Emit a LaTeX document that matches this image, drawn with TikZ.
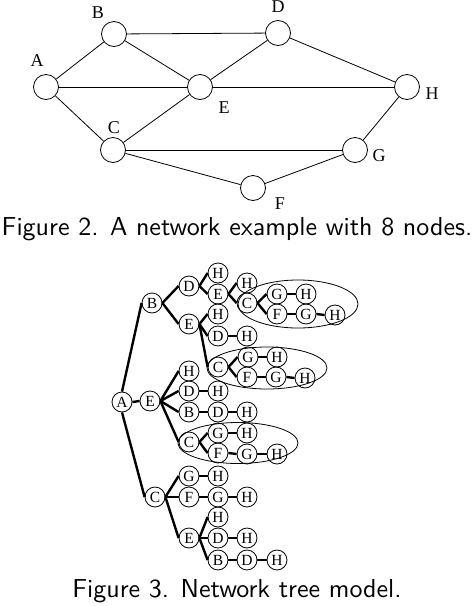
\documentclass[tikz,border=0pt]{standalone}
\usepackage{fontspec}
\newfontfamily\tms{Liberation Serif}
\newfontfamily\capfont{lmsans10-regular.otf}

\tikzset{
  vtx/.style={circle,draw,line width=0.8pt,minimum size=25pt,inner sep=0pt},
  vlbl/.style={font=\tms\fontsize{18}{18}\selectfont,inner sep=0pt},
  link/.style={line width=0.8pt},
  tnode/.style={circle,draw,line width=0.8pt,minimum size=20pt,inner sep=0pt,
    font=\tms\fontsize{15.5}{15.5}\selectfont},
  tedge/.style={line width=2.4pt},
  group/.style={line width=0.8pt},
  caption/.style={font=\capfont\fontsize{26}{30}\selectfont,anchor=base,inner sep=0pt}
}

\begin{document}
\begin{tikzpicture}[x=1pt,y=-1pt]
  \useasboundingbox (0,0) rectangle (474,606);
  % Network with 8 nodes
  \foreach \n/\x/\y in {A/46/87, B/114/34, D/278/33, E/200/87,
                        H/407/87, C/113/150, G/355/150, F/253/188} {
    \node[vtx] (\n) at (\x,\y) {};
  }
  \foreach \n/\x/\y in {A/37/61, B/98/13, D/278/7, E/224/108,
                        H/432/94, C/114/128, G/379/156, F/280/204} {
    \node[vlbl] (l\n) at (\x,\y) {\n};
  }
  \foreach \a/\b in {A/B, A/E, A/C, B/D, B/E, D/E, D/H, E/H,
                     C/E, C/G, C/F, F/G, G/H} {
    \draw[link] (\a) -- (\b);
  }
  \node[caption] (cap2) at (237,235) {Figure 2. A network example with 8 nodes.};

  % Tree model
  \foreach \n/\x/\y/\l in {r/122/402/A,
      rB/152/303/B, rE/150/401/E, rC/155/497/C,
      rBD/189/286/D, rBE/189/324/E,
      rBDH/218/273/H, rBDE/218/294/E,
      rBDEH/247/283/H, rBDEC/247/303/C,
      rBDECG/277/294/G, rBDECGH/306/294/H,
      rBDECF/277/314/F, rBDECFG/306/314/G, rBDECFGH/335/315/H,
      rBEH/218/314/H, rBED/218/336/D, rBEDH/247/336/H,
      rBEC/218/367/C, rBECG/248/357/G, rBECGH/277/357/H,
      rBECF/247/377/F, rBECFG/276/377/G, rBECFGH/305/378/H,
      rEH/189/371/H, rED/189/391/D, rEDH/218/391/H,
      rEB/189/412/B, rEBD/218/412/D, rEBDH/247/412/H,
      rEC/189/442/C, rECG/218/433/G, rECGH/247/433/H,
      rECF/218/453/F, rECFG/247/454/G, rECFGH/277/454/H,
      rCG/189/476/G, rCGH/218/476/H,
      rCF/189/497/F, rCFG/218/497/G, rCFGH/247/497/H,
      rCE/189/538/E, rCEH/218/517/H, rCED/218/538/D, rCEDH/247/538/H,
      rCEB/218/560/B, rCEBD/247/560/D, rCEBDH/277/560/H} {
    \node[tnode] (\n) at (\x,\y) {\l};
  }
  \draw[tedge] (r.north) -- (rB.west);
  \draw[tedge] (r.east) -- (rE.west);
  \draw[tedge] (r.south) -- (rC.west);
  \foreach \p/\c in {rB/rBD, rB/rBE, rBD/rBDH, rBD/rBDE, rBDE/rBDEH, rBDE/rBDEC,
      rBDEC/rBDECG, rBDECG/rBDECGH, rBDEC/rBDECF, rBDECF/rBDECFG, rBDECFG/rBDECFGH,
      rBE/rBEH, rBE/rBED, rBED/rBEDH, rBE/rBEC, rBEC/rBECG, rBECG/rBECGH,
      rBEC/rBECF, rBECF/rBECFG, rBECFG/rBECFGH,
      rE/rEH, rE/rED, rED/rEDH, rE/rEB, rEB/rEBD, rEBD/rEBDH,
      rE/rEC, rEC/rECG, rECG/rECGH, rEC/rECF, rECF/rECFG, rECFG/rECFGH,
      rC/rCG, rCG/rCGH, rC/rCF, rCF/rCFG, rCFG/rCFGH,
      rC/rCE, rCE/rCEH, rCE/rCED, rCED/rCEDH, rCE/rCEB, rCEB/rCEBD, rCEBD/rCEBDH} {
    \draw[tedge] (\p.east) -- (\c.west);
  }
  % repeated subtrees
  \draw[group] (298,304) ellipse [x radius=60, y radius=24];
  \draw[group] (267,368) ellipse [x radius=60, y radius=21];
  \draw[group] (238,443) ellipse [x radius=60, y radius=20.5];
  \node[caption] (cap3) at (237,597.5) {Figure 3. Network tree model.};
\end{tikzpicture}
\end{document}
